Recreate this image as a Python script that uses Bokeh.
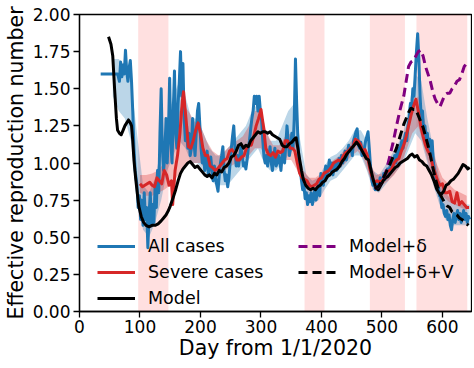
from bokeh.plotting import figure
from bokeh.models import Legend, LegendItem, FixedTicker, NumeralTickFormatter, Range1d
from bokeh.embed import file_html
from bokeh.resources import INLINE

FONT = "DejaVu Sans"

# shaded periods (days)
span_start = [97, 372, 480, 557]
span_end = [147, 405, 538, 641]

x_ticks = [0, 100, 200, 300, 400, 500, 600]
y_ticks = [0.0, 0.25, 0.5, 0.75, 1.0, 1.25, 1.5, 1.75, 2.0]

# All cases
all_days = [35, 63, 66, 68, 70, 72, 74, 76, 78, 80, 82, 84, 86, 88, 90, 92] + list(range(95, 646, 2))
all_r = [1.60, 1.60, 1.55, 1.68, 1.58, 1.66, 1.60, 1.76, 1.62, 1.55, 1.64, 1.69, 1.55, 1.35, 1.10, 0.95,
         0.85, 0.70, 0.78, 0.62, 0.75, 0.58, 0.80, 0.62, 0.70, 0.43,
         0.65, 0.80, 0.58, 0.72, 0.60, 0.85, 0.70, 0.95, 0.80, 1.20,
         1.50, 1.10, 0.95, 1.05, 1.30, 1.00, 1.20, 1.57, 1.15, 1.00,
         1.35, 1.62, 1.20, 1.10, 1.40, 1.55, 1.75, 1.45, 1.67, 1.30,
         1.15, 1.25, 1.10, 1.20, 1.05, 1.10, 1.30, 1.15, 1.05, 1.20,
         1.35, 1.40, 1.25, 1.10, 1.00, 1.05, 0.95, 1.00, 1.08, 0.92,
         0.98, 1.04, 0.95, 0.88, 0.98, 0.90, 0.85, 0.81, 0.92, 1.00,
         1.05, 1.11, 0.95, 0.88, 0.92, 0.84, 0.90, 1.00, 1.10, 1.18,
         1.25, 1.10, 0.98, 1.05, 0.98, 1.05, 1.11, 1.05, 0.98, 1.00,
         0.96, 1.02, 1.10, 1.15, 1.23, 1.30, 1.35, 1.45, 1.40, 1.45,
         1.35, 1.45, 1.35, 1.29, 1.15, 1.04, 1.00, 1.05, 0.98, 1.05,
         1.11, 1.00, 0.95, 1.04, 1.10, 0.98, 1.00, 1.05, 1.02, 0.95,
         1.05, 1.10, 1.00, 1.12, 1.25, 1.15, 1.05, 1.10, 1.20, 1.10,
         1.30, 1.70, 1.40, 1.16, 1.00, 0.95, 0.88, 0.82, 0.85, 0.76,
         0.80, 0.72, 0.78, 0.74, 0.80, 0.72, 0.77, 0.82, 0.75, 0.80,
         0.85, 0.78, 0.93, 0.88, 0.85, 0.92, 0.98, 0.90, 0.95, 1.02,
         0.95, 1.00, 0.92, 0.98, 1.00, 0.95, 0.97, 1.03, 0.98, 1.05,
         1.00, 1.03, 1.08, 1.02, 1.06, 1.12, 1.08, 1.10, 1.05, 1.15,
         1.18, 1.21, 1.23, 1.12, 1.10, 1.14, 1.05, 1.08, 1.10, 1.15,
         1.18, 1.21, 1.10, 0.98, 0.89, 0.85, 0.88, 0.82, 0.86, 0.82,
         0.85, 0.90, 0.86, 0.88, 0.93, 0.89, 0.92, 0.96, 0.92, 0.97,
         1.00, 0.95, 1.02, 1.05, 1.00, 1.08, 1.10, 1.05, 1.12, 1.15,
         1.10, 1.16, 1.20, 1.15, 1.25, 1.30, 1.40, 1.35, 1.50, 1.45,
         1.60, 1.75, 1.87, 1.70, 1.45, 1.30, 1.35, 1.20, 1.25, 1.15,
         1.20, 1.10, 1.16, 1.05, 1.15, 1.00, 0.95, 0.88, 0.82, 0.85,
         0.78, 0.77, 0.70, 0.72, 0.66, 0.64, 0.68, 0.62, 0.65, 0.58,
         0.55, 0.62, 0.66, 0.60, 0.65, 0.68, 0.62, 0.66, 0.60, 0.64,
         0.68, 0.62, 0.66, 0.60, 0.64, 0.62]

all_band_days = list(range(55, 646, 10))
all_lo = [1.45, 1.35, 1.30, 1.15, 0.80, 0.55, 0.50, 0.60, 0.75, 0.95,
          1.05, 1.15, 1.10, 1.00, 1.00, 0.95, 0.90, 0.85, 0.85, 0.85,
          0.90, 0.95, 1.00, 1.05, 1.10, 1.00, 0.95, 0.95, 1.00, 1.05,
          1.10, 0.90, 0.75, 0.72, 0.75, 0.82, 0.88, 0.90, 0.95, 1.00,
          1.05, 1.05, 0.95, 0.82, 0.80, 0.85, 0.90, 0.95, 1.00, 1.10,
          1.20, 1.15, 1.00, 0.85, 0.72, 0.62, 0.58, 0.58, 0.58, 0.58]
all_hi = [1.70, 1.70, 1.65, 1.55, 1.20, 0.85, 0.80, 0.90, 1.10, 1.30,
          1.45, 1.55, 1.45, 1.30, 1.30, 1.20, 1.10, 1.05, 1.05, 1.10,
          1.15, 1.20, 1.25, 1.35, 1.40, 1.25, 1.15, 1.15, 1.25, 1.35,
          1.40, 1.15, 0.92, 0.88, 0.90, 0.98, 1.04, 1.06, 1.10, 1.15,
          1.22, 1.22, 1.15, 0.95, 0.92, 0.98, 1.05, 1.12, 1.20, 1.40,
          1.60, 1.55, 1.30, 1.10, 0.90, 0.80, 0.75, 0.72, 0.72, 0.72]

# Severe cases
severe_days = list(range(100, 153, 4)) + list(range(154, 171, 4)) + list(range(172, 645, 4))
severe_r = [0.86, 0.84, 0.85, 0.86, 0.87, 0.85, 0.84, 0.90, 0.88, 0.86, 0.95, 0.92, 0.85, 0.88,
            0.72, 0.95, 1.05, 1.20, 1.42,
            1.48, 1.30, 1.11, 1.10, 1.15, 1.22, 1.27, 1.20, 1.10, 1.05,
            1.05, 0.98, 0.97, 0.95, 0.96, 0.98, 1.00, 1.02, 1.03, 1.08,
            1.09, 1.07, 1.02, 1.02, 1.04, 1.05, 1.10, 1.12, 1.12, 1.18,
            1.25, 1.30, 1.36, 1.25, 1.10, 1.06, 1.05, 1.07, 1.04, 1.08,
            1.07, 1.08, 1.15, 1.15, 1.10, 1.10, 1.08, 1.00, 0.93, 0.90,
            0.89, 0.88, 0.85, 0.84, 0.85, 0.86, 0.89, 0.90, 0.93, 0.94,
            0.95, 0.97, 1.00, 1.01, 1.02, 1.01, 1.05, 1.07, 1.08, 1.10,
            1.11, 1.16, 1.15, 1.13, 1.08, 1.09, 1.05, 0.96, 0.90, 0.87,
            0.88, 0.87, 0.88, 0.90, 0.94, 0.95, 0.96, 1.00, 1.02, 1.03,
            1.08, 1.12, 1.18, 1.25, 1.32, 1.38, 1.43, 1.35, 1.25, 1.18,
            1.12, 1.08, 1.05, 0.98, 0.93, 0.88, 0.85, 0.86, 0.80, 0.80,
            0.81, 0.74, 0.73, 0.80, 0.72, 0.74, 0.72, 0.70, 0.70]

severe_band_days = list(range(100, 641, 10))
severe_lo = [0.80, 0.78, 0.78, 0.80, 0.82, 0.85, 0.90, 0.95, 1.00, 1.00,
             1.00, 0.95, 0.92, 0.92, 0.95, 0.98, 1.00, 1.02, 1.05, 1.10,
             1.10, 1.02, 1.00, 1.00, 1.02, 1.02, 0.95, 0.85, 0.82, 0.82,
             0.85, 0.90, 0.93, 0.96, 1.00, 1.05, 1.08, 1.02, 0.90, 0.84,
             0.85, 0.88, 0.92, 0.98, 1.08, 1.20, 1.25, 1.10, 0.95, 0.85,
             0.78, 0.74, 0.72, 0.70, 0.68]
severe_hi = [0.92, 0.92, 0.93, 0.95, 1.00, 1.15, 1.30, 1.40, 1.35, 1.28,
             1.25, 1.15, 1.08, 1.05, 1.08, 1.12, 1.15, 1.18, 1.25, 1.35,
             1.35, 1.20, 1.12, 1.12, 1.18, 1.20, 1.12, 0.95, 0.90, 0.90,
             0.93, 0.98, 1.02, 1.05, 1.10, 1.15, 1.18, 1.12, 1.00, 0.92,
             0.93, 0.97, 1.02, 1.10, 1.25, 1.40, 1.45, 1.30, 1.12, 1.00,
             0.90, 0.86, 0.82, 0.80, 0.78]

# Model
model_days = [48, 52, 55, 58, 61, 63, 66, 69, 72, 75, 78, 81, 84, 86, 88, 90, 93, 96, 98, 102,
              106, 110, 115, 120, 125, 130, 135, 139, 143, 147, 150, 155, 159, 163, 167, 171, 175, 179, 183, 187,
              191, 195, 199, 203, 207, 211, 215, 219, 223, 227, 231, 235, 239, 243, 247, 251, 255, 259, 263, 267,
              271, 275, 279, 283, 287, 291, 295, 299, 303, 307, 311, 315, 319, 323, 327, 331, 335, 339, 343, 347,
              351, 355, 358, 361, 364, 367, 370, 374, 378, 382, 386, 390, 394, 398, 402, 406, 410, 414, 418, 422,
              426, 430, 434, 438, 442, 446, 450, 454, 458, 462, 466, 470, 474, 478, 482, 486, 490, 494, 498, 502,
              506, 510, 514, 518, 522, 526, 530, 534, 538, 542, 546, 550, 554, 558, 562, 566, 570, 574, 578, 582,
              586, 590, 594, 598, 602, 606, 610, 614, 618, 622, 626, 630, 634, 638, 642, 645]
model_r = [1.85, 1.80, 1.72, 1.50, 1.30, 1.22, 1.20, 1.19, 1.22, 1.25, 1.27, 1.29, 1.27, 1.25, 1.15, 1.02, 0.89, 0.78, 0.71, 0.64,
           0.60, 0.58, 0.57, 0.58, 0.58, 0.59, 0.61, 0.63, 0.65, 0.68, 0.71, 0.77, 0.82, 0.88, 0.93, 0.96, 0.98, 1.00, 1.01, 0.99,
           0.97, 0.98, 0.96, 0.94, 0.92, 0.91, 0.92, 0.90, 0.93, 0.92, 0.95, 0.94, 0.97, 0.98, 1.00, 1.04, 1.05, 1.08, 1.12, 1.13,
           1.10, 1.12, 1.11, 1.15, 1.17, 1.19, 1.21, 1.20, 1.21, 1.21, 1.20, 1.21, 1.19, 1.18, 1.17, 1.16, 1.12, 1.11, 1.11, 1.13,
           1.14, 1.16, 1.17, 1.10, 1.02, 0.95, 0.89, 0.85, 0.83, 0.82, 0.83, 0.82, 0.84, 0.85, 0.87, 0.88, 0.91, 0.92, 0.94, 0.95,
           0.96, 0.98, 1.01, 1.03, 1.06, 1.08, 1.10, 1.12, 1.14, 1.12, 1.09, 1.06, 1.03, 1.02, 0.95, 0.88, 0.83, 0.82, 0.85, 0.88,
           0.90, 0.91, 0.93, 0.95, 0.97, 0.98, 1.00, 1.01, 1.02, 1.03, 1.05, 1.06, 1.04, 1.05, 1.02, 1.01, 0.99, 0.98, 0.95, 0.92,
           0.88, 0.83, 0.80, 0.79, 0.81, 0.85, 0.86, 0.88, 0.89, 0.91, 0.93, 0.96, 0.99, 0.98, 0.96, 0.97]

# Model + delta, Model + delta + V
proj_days = [488, 494, 500, 506, 512, 518, 524, 530, 536, 540, 544, 548, 552, 556, 560, 564, 568, 572, 576, 580,
             584, 588, 592, 596, 600, 604, 608, 612, 616, 620, 624, 628, 632, 636, 640, 643]
delta_r = [0.83, 0.84, 0.88, 0.93, 1.03, 1.13, 1.25, 1.36, 1.45, 1.55, 1.65, 1.68, 1.69, 1.72, 1.75, 1.76, 1.72, 1.65, 1.60, 1.55,
           1.48, 1.43, 1.40, 1.38, 1.42, 1.46, 1.47, 1.47, 1.50, 1.52, 1.55, 1.56, 1.60, 1.65, 1.67, 1.65]
delta_v_r = [0.83, 0.84, 0.88, 0.93, 0.98, 1.04, 1.10, 1.18, 1.26, 1.30, 1.34, 1.37, 1.36, 1.36, 1.32, 1.28, 1.24, 1.18, 1.12, 1.05,
             0.97, 0.90, 0.84, 0.79, 0.76, 0.73, 0.71, 0.70, 0.67, 0.66, 0.65, 0.63, 0.62, 0.61, 0.59, 0.58]

BLUE = "#1f77b4"
RED = "#d62728"
PURPLE = "#800080"

p = figure(width=472, height=362, output_backend="svg", toolbar_location=None,
           x_range=Range1d(0, 648), y_range=Range1d(0, 2),
           min_border_left=79, min_border_right=1, min_border_top=14, min_border_bottom=30)
p.xgrid.visible = False
p.ygrid.visible = False
p.outline_line_color = "black"
p.outline_line_width = 1.3
p.outline_line_alpha = 1.0

p.quad(left=span_start, right=span_end, bottom=0, top=2, fill_color="red", fill_alpha=0.12, line_color=None)

p.varea(x=all_band_days, y1=all_lo, y2=all_hi, fill_color=BLUE, fill_alpha=0.3)
p.varea(x=severe_band_days, y1=severe_lo, y2=severe_hi, fill_color=RED, fill_alpha=0.3)

r_all = p.line(all_days, all_r, line_color=BLUE, line_width=3, line_join="round")
r_sev = p.line(severe_days, severe_r, line_color=RED, line_width=3, line_join="round")
r_mod = p.line(model_days, model_r, line_color="black", line_width=3, line_join="round")
r_del = p.line(proj_days, delta_r, line_color=PURPLE, line_width=3, line_dash="9 5")
r_dv = p.line(proj_days, delta_v_r, line_color="black", line_width=3, line_dash="9 5")

for ax in (p.xaxis[0], p.yaxis[0]):
    ax.axis_line_color = "black"
    ax.axis_line_width = 1.3
    ax.major_tick_line_color = "black"
    ax.major_tick_line_width = 1.3
    ax.major_tick_out = 6
    ax.major_tick_in = 0
    ax.minor_tick_line_color = None
    ax.major_label_text_font = FONT
    ax.major_label_text_font_size = "17px"
    ax.major_label_text_color = "black"
    ax.axis_label_text_font = FONT
    ax.axis_label_text_font_size = "20.5px"
    ax.axis_label_text_font_style = "normal"
    ax.axis_label_text_color = "black"

p.yaxis.major_label_standoff = 3
p.yaxis.axis_label_standoff = 2
p.xaxis.major_label_standoff = 2
p.xaxis.axis_label_standoff = 0

p.xaxis.ticker = FixedTicker(ticks=x_ticks)
p.yaxis.ticker = FixedTicker(ticks=y_ticks)
p.yaxis.formatter = NumeralTickFormatter(format="0.00")
p.xaxis.axis_label = "Day from 1/1/2020"
p.yaxis.axis_label = "Effective reproduction number"

def make_legend(items, loc):
    return Legend(items=items, location=loc, glyph_width=38, glyph_height=20, label_height=20,
                  label_standoff=13, spacing=6, padding=0, margin=0,
                  border_line_alpha=0, background_fill_alpha=0,
                  label_text_font=FONT, label_text_font_size="17.5px", label_text_color="black")

leg1 = make_legend([LegendItem(label="All cases", renderers=[r_all]),
                    LegendItem(label="Severe cases", renderers=[r_sev]),
                    LegendItem(label="Model", renderers=[r_mod])], (18, 3))
leg2 = make_legend([LegendItem(label="Model+δ", renderers=[r_del]),
                    LegendItem(label="Model+δ+V", renderers=[r_dv])], (219, 29))
p.add_layout(leg1)
p.add_layout(leg2)

open("out.html", "w").write(file_html(p, INLINE))
